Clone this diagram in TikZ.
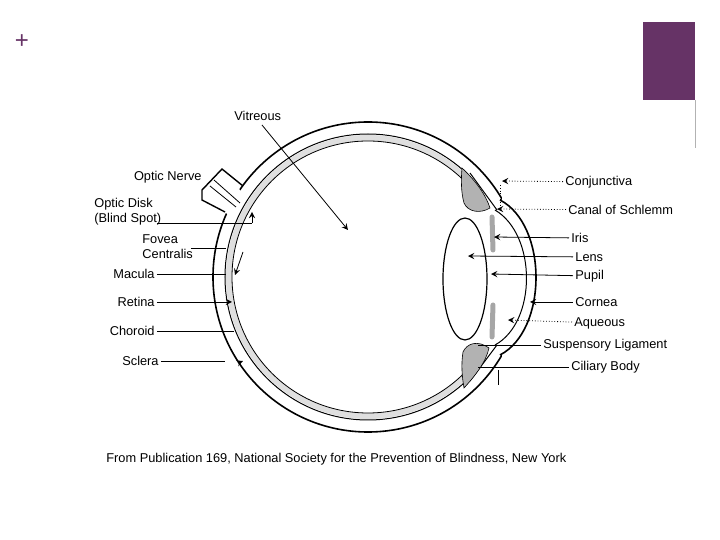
\documentclass[tikz,border=0pt]{standalone}
\usepackage{fontspec}
\setmainfont{Liberation Sans}
\begin{document}
\begin{tikzpicture}[x=0.5pt,y=-0.5pt,
 lab/.style={font=\fontsize{6.4pt}{7.6pt}\selectfont,inner sep=1pt},
 ln/.style={draw=black,line width=0.4pt},
 arr/.style={ln,-stealth},
 gr/.style={fill=gray!60,draw=black,line width=0.3pt}]
\definecolor{plum}{RGB}{102,51,102}
\useasboundingbox (0,0) rectangle (720,540);
\fill[plum] (643,22) rectangle (695,100);
\draw[gray!60] (695,100) -- (695,148);
\node[text=plum,font=\fontsize{12pt}{12pt}\selectfont] (plus) at (22,42) {+};
% globe
\begin{scope}
\clip (150,100) rectangle (502,470);
\draw[line width=0.8pt] (368,277) circle (155);
\end{scope}
\begin{scope}
\clip (150,100) rectangle (470,470);
\draw[line width=0.5pt] (368,277) circle (143);
\fill[gray!25,even odd rule] (368,277) circle (142) (368,277) circle (136);
\draw[line width=0.4pt] (368,277) circle (136);
\end{scope}
\draw[line width=0.5pt] (470,173) -- (497,210);
\draw[line width=0.5pt] (470,381) -- (497,345);
% cornea
\draw[line width=0.8pt] (500,200) .. controls (548,225) and (548,330) .. (500,355);
\draw[line width=0.5pt] (495,210) .. controls (537,235) and (537,322) .. (495,345);
% lens
\draw[line width=0.6pt] (465,279) ellipse (22 and 61);
% iris
\draw[gray!70,line width=2.5pt,line cap=round] (492,217) -- (493,250);
\draw[gray!70,line width=2.5pt,line cap=round] (493,305) -- (492,337);
% ciliary bodies
\path[gr] (462,168) .. controls (475,180) and (486,195) .. (490,208) .. controls (480,214) and (468,212) .. (464,203) .. controls (461,192) and (461,180) .. (462,168) -- cycle;
\path[gr] (464,388) .. controls (475,376) and (486,362) .. (489,348) .. controls (478,340) and (467,343) .. (463,352) .. controls (461,365) and (462,376) .. (464,388) -- cycle;
% optic nerve
\fill[white] (203,190) -- (222,169) -- (245,196) -- (228,215) -- cycle;
\draw[line width=0.7pt] (243,186) -- (222,169) -- (202,190) -- (202,200) -- (225,212);
\draw[line width=0.4pt] (214,180) -- (240,203);
\draw[line width=0.4pt] (210,186) -- (236,207);
% labels
\node[lab,anchor=west] (vit) at (232,116) {Vitreous};
\coordinate (vitp) at (348,230);
\draw[arr] (262,125) -- (vitp);
\node[lab,anchor=east] (on) at (204,177) {Optic Nerve};
\node[lab,anchor=west,align=left] (od) at (92,212) {Optic Disk\\(Blind Spot)};
\draw[ln] (157,223) -- (252,223); \draw[arr] (252,223) -- (252,212);
\node[lab,anchor=west,align=left] (fov) at (140,247) {Fovea\\Centralis};
\draw[ln] (191,248) -- (226,248);
\draw[arr] (243,252) -- (235,275);
\node[lab,anchor=east] (mac) at (157,274) {Macula};
\coordinate (macp) at (226,274);
\draw[ln] (mac) -- (macp);
\node[lab,anchor=east] (ret) at (157,302) {Retina};
\coordinate (retp) at (232,302);
\draw[arr] (ret) -- (retp);
\node[lab,anchor=east] (cho) at (157,331) {Choroid};
\coordinate (chop) at (234,331);
\draw[ln] (cho) -- (chop);
\node[lab,anchor=east] (scl) at (161,361) {Sclera};
\coordinate (sclp) at (225,361);
\draw[ln] (scl) -- (sclp);
\draw[arr] (238,363) -- (243,361);
\node[lab,anchor=west] (con) at (563,182) {Conjunctiva};
\coordinate (conp) at (502,181);
\draw[arr,densely dotted] (con) -- (conp);
\draw[ln,densely dotted] (500,185) -- (500,205);
\node[lab,anchor=west] (cs) at (566,210) {Canal of Schlemm};
\coordinate (csp) at (497,209);
\draw[arr,densely dotted] (cs) -- (csp);
\node[lab,anchor=west] (iris) at (569,238) {Iris};
\coordinate (irisp) at (494,237);
\draw[arr] (iris) -- (irisp);
\node[lab,anchor=west] (lens) at (573,257) {Lens};
\coordinate (lensp) at (468,256);
\draw[arr] (lens) -- (lensp);
\node[lab,anchor=west] (pup) at (573,276) {Pupil};
\coordinate (pupp) at (491,274);
\draw[arr] (pup) -- (pupp);
\node[lab,anchor=west] (cor) at (573,302) {Cornea};
\coordinate (corp) at (530,302);
\draw[arr] (cor) -- (corp);
\node[lab,anchor=west] (aq) at (572,323) {Aqueous};
\coordinate (aqp) at (508,320);
\draw[arr,densely dotted] (aq) -- (aqp);
\node[lab,anchor=west] (sl) at (541,345) {Suspensory Ligament};
\coordinate (slp) at (478,345);
\draw[ln] (sl) -- (slp);
\node[lab,anchor=west] (cb) at (569,367) {Ciliary Body};
\coordinate (cbp) at (478,367);
\draw[ln] (cb) -- (cbp);
\draw[ln] (498,370) -- (498,385);
\node[lab,anchor=west] (src) at (104,459) {From Publication 169, National Society for the Prevention of Blindness, New York};
\end{tikzpicture}
\end{document}
